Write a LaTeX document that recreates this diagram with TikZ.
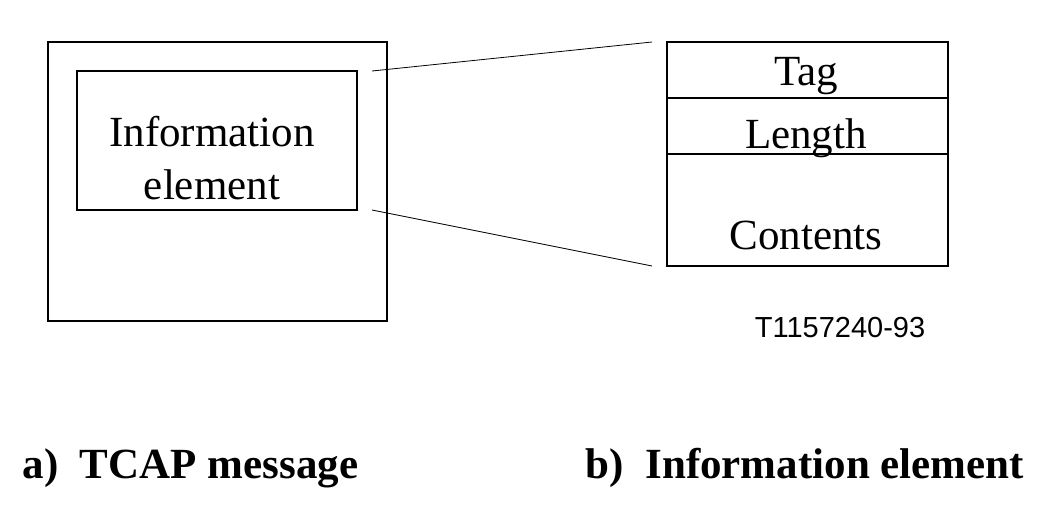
\documentclass[tikz,border=0pt]{standalone}
\usepackage{fontspec}
\setmainfont{Liberation Serif}
\newfontfamily\sansf{Liberation Sans}
\begin{document}
\begin{tikzpicture}[x=1pt,y=-1pt,line width=1.3pt,
  lbl/.style={font=\fontsize{43}{45}\selectfont,inner sep=0},
  captxt/.style={font=\fontsize{43}{46}\selectfont\bfseries,inner sep=0,anchor=west}]
\useasboundingbox (0,0) rectangle (1060,507);
\draw (48,42) rectangle (387,321);
\draw (77,71) rectangle (357,210);
\node[lbl] (i1) at (212,132) {Information};
\node[lbl] (i2) at (212,185) {element};
\draw (667,42) rectangle (948,266);
\draw (667,98) -- (948,98);
\draw (667,154) -- (948,154);
\node[lbl] (t) at (806,76) {Tag};
\node[lbl] (l) at (806,138) {Length};
\node[lbl] (c) at (806,235) {Contents};
\draw[line width=0.8pt] (372,71) -- (652,42);
\draw[line width=0.8pt] (372,210) -- (652,266);
\node[inner sep=0,font=\sansf\fontsize{29}{31}\selectfont] (code) at (840,328) {T1157240-93};
\node[captxt] (ca) at (22,468) {a)\ \ TCAP message};
\node[captxt] (cb) at (585,468) {b)\ \ Information element};
\end{tikzpicture}
\end{document}
